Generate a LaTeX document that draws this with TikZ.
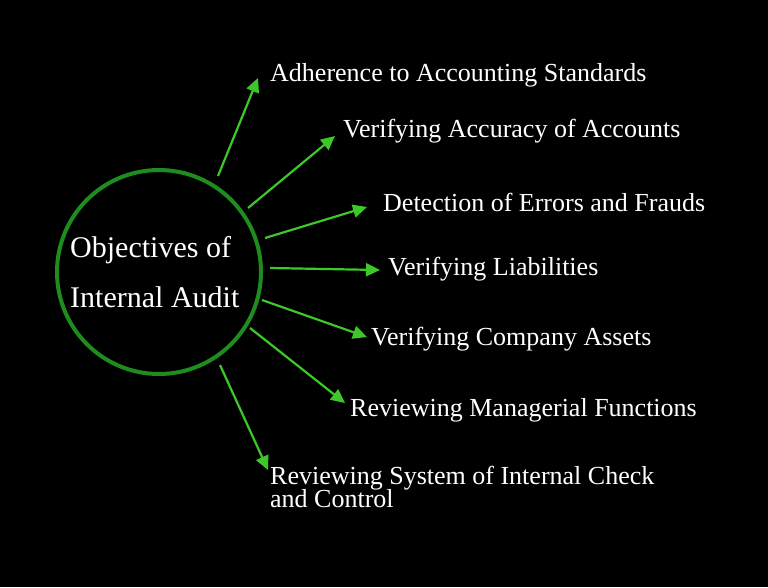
\documentclass[tikz,border=0pt]{standalone}
\usepackage{fontspec}
\setmainfont{Liberation Serif}
\usetikzlibrary{arrows.meta}
\definecolor{ring}{RGB}{30,140,30}
\definecolor{arr}{RGB}{60,200,40}
\begin{document}
\begin{tikzpicture}[x=1pt,y=-1pt,
  lab/.style={anchor=west,text=white,font=\fontsize{26}{20}\selectfont,inner sep=0pt,align=left},
  con/.style={arr,line width=2.2pt,-{Triangle[length=14pt,width=13pt]}}]
\fill[black] (0,0) rectangle (768,587);
\draw[ring,line width=4pt] (159,272) circle (102);
\node[anchor=west,text=white,font=\fontsize{30}{50}\selectfont,align=left,inner sep=0pt] (c) at (70,272) {Objectives of\\Internal Audit};
\node[lab] (t1) at (270,75) {Adherence to Accounting Standards};
\node[lab] (t2) at (343,131) {Verifying Accuracy of Accounts};
\node[lab] (t3) at (383,202) {Detection of Errors and Frauds};
\node[lab] (t4) at (388,269) {Verifying Liabilities};
\node[lab] (t5) at (371,339) {Verifying Company Assets};
\node[lab] (t6) at (350,410) {Reviewing Managerial Functions};
\node[lab] (t7) at (270,487) {Reviewing System of Internal Check\\[-1pt]and Control};
\foreach \i/\a/\b in {1/{218,176}/{258,78},2/{248,208}/{335,136},3/{265,238}/{367,207},4/{270,268}/{380,270},5/{262,300}/{367,337},6/{250,328}/{345,403},7/{220,365}/{268,470}}{
  \coordinate (s\i) at (\a); \coordinate (e\i) at (\b);
  \draw[con] (s\i) -- (e\i);}
\end{tikzpicture}
\end{document}
